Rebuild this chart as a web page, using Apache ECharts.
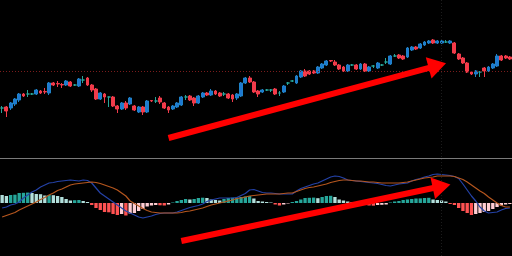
<!DOCTYPE html>
<html><head><meta charset="utf-8">
<script src="https://cdn.jsdelivr.net/npm/echarts@6/dist/echarts.min.js"></script>
<style>html,body{margin:0;padding:0;background:#000}#c{width:512px;height:256px}</style>
</head><body><div id="c"></div>
<script>
// candle values: [open, close, low, high]
const candles = [
[92,92,87,94],[93,89,83,94],[92,97,90,98],[96,101,94,102],[100,106,98,107],
[106,104,103,107],[106,106,103,110],[106,106,105,107],[106,110,105,111],[109,107,106,110],
[108.5,108,106,112],[107,117,105,118],[117,115,114,118],[116.5,116,113,119],[115.5,115,112,117],
[115,119,114,120],[118,114,113,119],[115,115,114,116],[114,121,113,122],[120,120,117,124],
[122,115,114,123],[115,110,108,116],[111,101,100,112],[101,107,100,108],[106,103,97,107],
[103,103,93,103.5],[103,94,93,104],[94,91,87,95],[91,97,90,98],[97,92,90,99],
[96,102,95,103],[94,90,89,95],[88,93,87,94],[93,88,85,94],[88,99,87,100],
[99.5,99,98,100],[99,99,97,103],[102,98,96,104],[97,92,91,98],[93,90,87,94],
[91,94,90,95],[93,97,92,98],[95,103,94,104],[103,103,100,105],[104,100,99,105],
[102,97,94,103],[97,104,96,105],[103,107,102,108],[107,105,104,108],[105,109,104,111],
[109,106,105,110],[107,104,103,108],[106,106,104,108],[106,102,101,107],[105,101,98,106],
[102,106,100,107],[104,117,103,118],[117,122,116,123],[122,118,117,124],[118,108,107,119],
[109,106,103,110],[108,110,107,111],[110,110,109,111],[110,110,108,111],[111,106,105,112],
[107,107,104,109],[108,114,107,115],[117,117,115,118],[119,119,118,120],[117,124,116,125],
[123,129,122,130],[129,124,123,131],[129,126,125,130],[129,127,126,130],[127,133,126,134],
[132,136,131,137],[135,139,134,140],[139.5,139,138,140],[138,135,134,140],[135,131,130,136],
[133,129,128,134],[129,135,128,136],[135,135,134,136],[135,131,130,136],[131,136,130,137],
[136,129,128,137],[129,133,128,134],[134,134,132,135],[132,137,131,138],[135,135,134,136],
[138,138,136,142],[136,144,135,145],[144,144,143,146],[145,142,141,146],[144,141,140,145],
[143,152,142,153],[150,153,149,154],[153,151,150,154],[152,156,151,157],[155,158,154,159],
[157,159,156,160],[160,157,156,161],[157,159,156,160],[157,159,156,160],[158,158,157,160],
[157,159,156,160],[157,147,146,158],[146,141,140,147],[142,137,136,143],[137,128,127,138],
[128,126,125,129],[126,129,123,130],[128,128,123,129],[132,129,123,133],[129,133,128,134],
[132,136,131,137],[134,144,133,146],[144,140,139,145],[144,142,141,145],[143,141,140,144]
];
const macdLine = [
-5,-4,-2,-1,1,5,8,11,13,16,18,20,20.5,21.5,22,22.5,23,22.5,22,23,
22.5,20,15,10,7,4,1,-2,-5,-8,-10,-12,-14,-15,-14,-13,-11.5,-10.5,-10,-10,
-10,-9,-7.5,-6,-4.5,-3.5,-2.5,-1,1.5,3,4,5,5,5,5,5.5,7.5,9.5,13,13.5,
12,10.5,10,10,9.5,9,9,9,9,12,14.5,16,17.5,19,20,22,24,26,27,26.5,
25,23,22.5,22,21.5,21,20.5,20,19.5,18.5,17.5,17,18,19,19.5,20,22,23.5,24.5,26,
27,28.5,29,28.5,28,27.5,26.5,24.5,19,13,7,2,-4,-8,-10,-9.5,-9,-7,-5.5,-5
];
const signalLine = [
-14,-12.5,-11,-9.5,-7,-5,-3,-1,1,3.5,5.5,8,10,12.5,14,16,18,19,19.5,20,
20.5,21,20.5,19.5,18,16.5,15,13,10,7,2,-0.5,-3,-5.5,-7.5,-9,-9.5,-10,-10,-10,
-10,-10,-9.5,-8.5,-8,-7,-6,-5,-3.5,-2,-1,0,1,2,3,4.5,5,6,7,7.5,
8,8.5,9,9,9,9,9.5,10,10,11.5,13,14.5,15.5,16,17,18,19,20.5,21.5,22.5,
23,23,22.5,22,22,21.5,21,21,20.5,20,20,20,20,20,20.5,21,22,23,24,25,
25.5,26,27,27,27,27,26.5,25,23.5,21,18,15,12,9.5,6,3,0,-2.5,-4,-4
];
const histogram = [
8,7,8,8.3,10,10.2,10.4,10,9,8.8,7.5,8,7.8,7,6,4,2.5,2.8,3,2,
1,-2,-5,-7,-9,-9.3,-11,-12,-11,-12.5,-10.5,-10,-8,-6,-3.5,-2.5,-2,-2.3,-2.5,-1.5,
0.5,2,3,4,3.5,4,5,5.3,5,3.5,3,2.5,4,5,5.3,5.5,6,6.5,7,4.5,
2,1.5,1,0.5,-1.5,-2.5,-1.5,-0.5,1,2,3.5,5,5.2,5.4,4.8,6,7,7.2,6,3.5,
2.5,1.5,1,0.5,-0.5,-1.5,-2.5,-2.7,-2,-1.8,-1.5,0.5,1.5,2,3,3.5,4,4.5,4.6,5,
5.2,3.5,3,2.5,1.5,-1,-2,-5,-8,-10,-12,-11,-10,-9,-8,-6,-4,-2.5,-1.5,-1
];
const categories = candles.map((_, i) => String(i + 1));
const priceLevel = 129;
const arrow1 = [[39, 62], [102, 134.4]];
const arrow2 = [[42, -38], [103, 16.7]];
const markerBar = 103;

const chart = echarts.init(document.getElementById('c'), null, {renderer: 'canvas'});
const arrowStyle = {color: '#ff0000', width: 6, type: 'solid'};
chart.setOption({
  backgroundColor: '#000',
  animation: false,
  grid: [
    {left: 0, right: 0, top: 0, height: 157},
    {left: 0, right: 0, top: 158, height: 98}
  ],
  xAxis: [
    {type: 'category', data: categories, gridIndex: 0, boundaryGap: true,
     axisLine: {show: false}, axisTick: {show: false}, axisLabel: {show: false}, splitLine: {show: false}},
    {type: 'category', data: categories, gridIndex: 1, boundaryGap: true, position: 'top',
     axisLine: {show: true, onZero: false, lineStyle: {color: '#7a7a7a', width: 1}},
     axisTick: {show: false}, axisLabel: {show: false}, splitLine: {show: false}}
  ],
  yAxis: [
    {type: 'value', gridIndex: 0, min: 43, max: 200, show: false, splitLine: {show: false}},
    {type: 'value', gridIndex: 1, min: -53, max: 45, show: false, splitLine: {show: false}}
  ],
  series: [
    {
      type: 'candlestick', xAxisIndex: 0, yAxisIndex: 0, data: candles, barWidth: 3.4,
      itemStyle: {color: '#1f78d1', color0: '#f23b4a', borderColor: '#1f82c8', borderColor0: '#f23b4a',
                  borderColorDoji: '#26a69a', borderWidth: 1},
      markLine: {
        silent: true, animation: false, symbol: 'none', label: {show: false},
        data: [
          {yAxis: priceLevel, lineStyle: {color: '#7a1c1c', width: 1, type: [1, 2]}},
          {xAxis: markerBar, lineStyle: {color: '#1c1c1c', width: 1, type: [1, 2]}},
          [{coord: arrow1[0], symbol: 'none', lineStyle: arrowStyle},
           {coord: arrow1[1], symbol: 'triangle', symbolSize: [22, 18], lineStyle: arrowStyle}]
        ]
      }
    },
    {
      type: 'bar', xAxisIndex: 1, yAxisIndex: 1, data: histogram, barCategoryGap: '22%',
      itemStyle: {
        color: p => {
          const v = histogram[p.dataIndex];
          const prev = p.dataIndex > 0 ? histogram[p.dataIndex - 1] : v;
          if (v >= 0) return v > prev ? '#26a69a' : '#b2dfdb';
          return v < prev ? '#ff5252' : '#ffcdd2';
        }
      },
      markLine: {
        silent: true, animation: false, symbol: 'none', label: {show: false},
        data: [
          {xAxis: markerBar, lineStyle: {color: '#1c1c1c', width: 1, type: [1, 2]}},
          [{coord: arrow2[0], symbol: 'none', lineStyle: arrowStyle},
           {coord: arrow2[1], symbol: 'triangle', symbolSize: [22, 18], lineStyle: arrowStyle}]
        ]
      },
      z: 1
    },
    {type: 'line', xAxisIndex: 1, yAxisIndex: 1, data: macdLine, symbol: 'none',
     lineStyle: {color: '#2442a8', width: 1.2}, z: 2},
    {type: 'line', xAxisIndex: 1, yAxisIndex: 1, data: signalLine, symbol: 'none',
     lineStyle: {color: '#b5561e', width: 1.2}, z: 2}
  ]
});
</script></body></html>
